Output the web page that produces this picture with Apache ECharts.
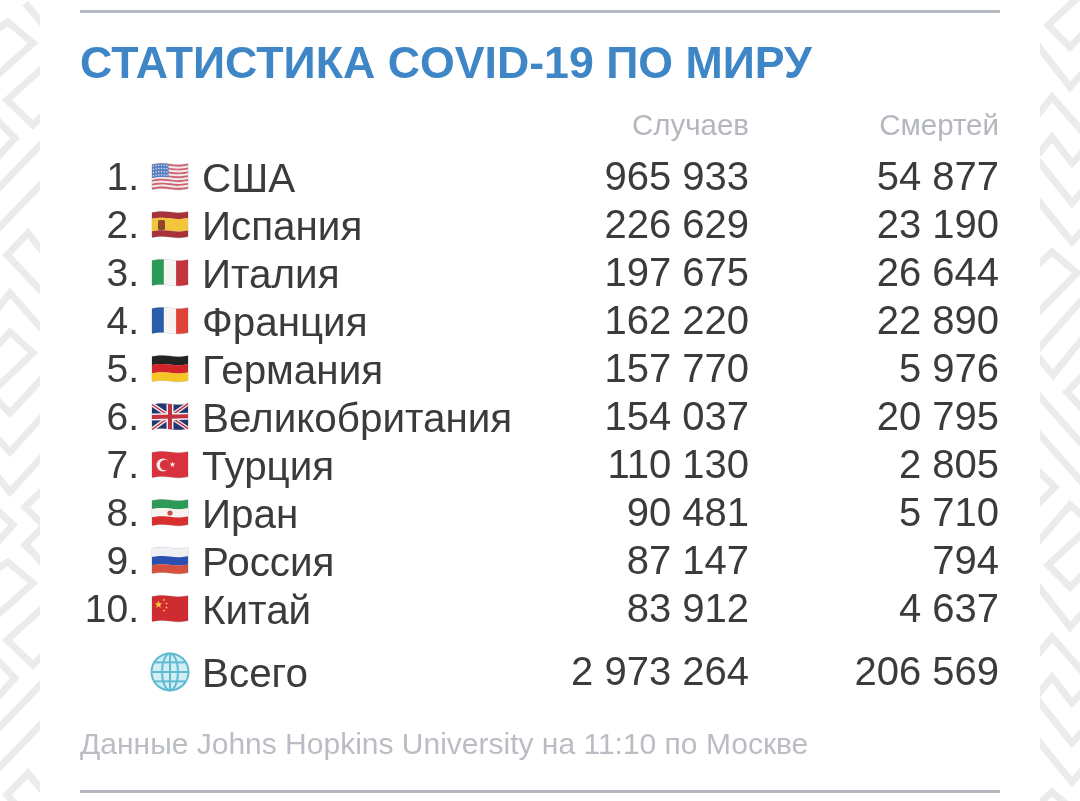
<!DOCTYPE html>
<html><head><meta charset="utf-8">
<style>html,body{margin:0;padding:0;background:#fff}#c{width:1080px;height:801px}</style>
<script src="https://cdn.jsdelivr.net/npm/echarts@6/dist/echarts.min.js"></script>
</head><body><div id="c"></div>
<script>
const ranks = ['1.','2.','3.','4.','5.','6.','7.','8.','9.','10.',''];
const countries = ['США','Испания','Италия','Франция','Германия','Великобритания','Турция','Иран','Россия','Китай','Всего'];
const cases = ['965 933','226 629','197 675','162 220','157 770','154 037','110 130','90 481','87 147','83 912','2 973 264'];
const deaths = ['54 877','23 190','26 644','22 890','5 976','20 795','2 805','5 710','794','4 637','206 569'];
const flags = ['us','es','it','fr','de','gb','tr','ir','ru','cn','globe'];
const rowPositions = [1,2,3,4,5,6,7,8,9,10,11.31];
const titleText = 'СТАТИСТИКА COVID-19 ПО МИРУ';
const colHeaders = ['Случаев','Смертей'];
const footerText = 'Данные Johns Hopkins University на 11:10 по Москве';

const FONT = '"Liberation Sans", Arial, sans-serif';
const INK = '#3b3b3e';
const FW = 36, FH = 25;

function wave(u){ return -0.9*Math.sin(u*Math.PI*2) - 0.8*u; }
function flagPoly(cx,cy,u0,v0,u1,v1,fill,stroke){
  const pts=[]; const n=10;
  const P=(u,v)=>[cx-FW/2+u*FW, cy-FH/2+v*FH+wave(u)];
  for(let i=0;i<=n;i++){const u=u0+(u1-u0)*i/n;pts.push(P(u,v0));}
  for(let i=n;i>=0;i--){const u=u0+(u1-u0)*i/n;pts.push(P(u,v1));}
  return {type:'polygon',shape:{points:pts},style:stroke?{fill,stroke,lineWidth:1}:{fill}};
}
function hBands(cx,cy,bands){let v=0;return bands.map(b=>{const r=flagPoly(cx,cy,0,v,1,v+b[0],b[1]);v+=b[0];return r;});}
function vBands(cx,cy,bands){let u=0;return bands.map(b=>{const r=flagPoly(cx,cy,u,0,u+b[0],1,b[1]);u+=b[0];return r;});}
function dot(x,y,r,fill){return {type:'circle',shape:{cx:x,cy:y,r},style:{fill}};}
function star(x,y,r,fill){const pts=[];for(let i=0;i<10;i++){const a=-Math.PI/2+i*Math.PI/5,q=i%2?r*0.42:r;pts.push([x+q*Math.cos(a),y+q*Math.sin(a)]);}return {type:'polygon',shape:{points:pts},style:{fill}};}
function flagLine(cx,cy,u0,v0,u1,v1,w,col){
  const P=(u,v)=>[cx-FW/2+u*FW, cy-FH/2+v*FH+wave(u)];
  return {type:'line',shape:{x1:P(u0,v0)[0],y1:P(u0,v0)[1],x2:P(u1,v1)[0],y2:P(u1,v1)[1]},style:{stroke:col,lineWidth:w}};
}
function drawFlag(code,cx,cy){
  const o=[];
  if(code!=='globe') o.push(flagPoly(cx,cy,0,0,1,1,'#dddddd','#d2d2d4'));
  switch(code){
    case 'us':{
      const n=13;for(let i=0;i<n;i++)o.push(flagPoly(cx,cy,0,i/n,1,(i+1)/n,i%2?'#f4e9ea':'#cf6470'));
      o.push(flagPoly(cx,cy,0,0,0.46,7/13,'#5b80c2'));
      for(let r=0;r<4;r++)for(let c=0;c<6;c++){const u=0.04+c*0.075,v=0.07+r*0.13;o.push(dot(cx-FW/2+u*FW,cy-FH/2+v*FH+wave(u),0.7,'#dfe8f5'));}
      break;}
    case 'es':
      o.push(...hBands(cx,cy,[[.25,'#a8323a'],[.5,'#f2c53d'],[.25,'#a8323a']]));
      o.push({type:'rect',shape:{x:cx-12,y:cy-5,width:7,height:10,r:1.5},style:{fill:'#8c4a2c'}});
      o.push(dot(cx-8.5,cy-1,2,'#b3372f'));
      break;
    case 'it': o.push(...vBands(cx,cy,[[.33,'#2c9a57'],[.34,'#f6f5f2'],[.33,'#c2353f']]));break;
    case 'fr': o.push(...vBands(cx,cy,[[.33,'#2a5ca8'],[.34,'#f6f5f2'],[.33,'#e0433a']]));break;
    case 'de': o.push(...hBands(cx,cy,[[.34,'#232323'],[.33,'#d3242b'],[.33,'#f5c526']]));break;
    case 'gb':
      o.push(flagPoly(cx,cy,0,0,1,1,'#23376f'));
      o.push(flagLine(cx,cy,0,0,1,1,4,'#f1eef0'),flagLine(cx,cy,0,1,1,0,4,'#f1eef0'));
      o.push(flagLine(cx,cy,0,0,1,1,1.5,'#c5303e'),flagLine(cx,cy,0,1,1,0,1.5,'#c5303e'));
      o.push(flagLine(cx,cy,.5,0,.5,1,7,'#f1eef0'),flagLine(cx,cy,0,.5,1,.5,7,'#f1eef0'));
      o.push(flagLine(cx,cy,.5,0,.5,1,4,'#c5303e'),flagLine(cx,cy,0,.5,1,.5,4,'#c5303e'));
      break;
    case 'tr':
      o.push(flagPoly(cx,cy,0,0,1,1,'#d8323f'));
      o.push(dot(cx-7,cy,6.5,'#f7ecec'),dot(cx-5,cy,5.2,'#d8323f'));
      o.push(star(cx+2.5,cy-0.5,3,'#f7ecec'));
      break;
    case 'ir':
      o.push(...hBands(cx,cy,[[.34,'#2e9a58'],[.33,'#f6f3f2'],[.33,'#d7302e']]));
      o.push(dot(cx,cy,2.6,'#c9504e'));
      break;
    case 'ru': o.push(...hBands(cx,cy,[[.34,'#eef0f4'],[.33,'#2b50b0'],[.33,'#d5503f']]));break;
    case 'cn':
      o.push(flagPoly(cx,cy,0,0,1,1,'#cf2c32'));
      o.push(star(cx-11.5,cy-4.5,4,'#f6c93c'));
      [[-6,-9],[-3.5,-5.5],[-3.5,-1.5],[-6,1.5]].forEach(p=>o.push(star(cx+p[0],cy+p[1],1.4,'#f6c93c')));
      break;
    case 'globe':{
      const R=18.5,L='#62bad2',S={stroke:L,lineWidth:2,fill:'transparent'};
      o.push({type:'circle',shape:{cx,cy,r:R},style:{fill:'#d2eef5',stroke:L,lineWidth:2}});
      o.push({type:'ellipse',shape:{cx,cy,rx:8,ry:R},style:S});
      o.push({type:'line',shape:{x1:cx,y1:cy-R,x2:cx,y2:cy+R},style:S});
      o.push({type:'line',shape:{x1:cx-R,y1:cy,x2:cx+R,y2:cy},style:S});
      o.push({type:'line',shape:{x1:cx-15.5,y1:cy-9.5,x2:cx+15.5,y2:cy-9.5},style:S});
      o.push({type:'line',shape:{x1:cx-15.5,y1:cy+9.5,x2:cx+15.5,y2:cy+9.5},style:S});
      break;}
  }
  return o;
}

// column anchors (axis units = px)
const X_RANK=139, X_FLAG=170, X_NAME=202, X_CASES=749, X_DEATHS=999;
function txt(x,y,text,align,size,fill,weight){
  return {type:'text',style:{x,y,text,textAlign:align,textVerticalAlign:'middle',fill,font:(weight||'normal')+' '+size+'px '+FONT}};
}
function renderRow(params,api){
  const i=api.value(0), row=api.value(1);
  const p=x=>api.coord([x,row]);
  const cy=p(X_FLAG)[1];
  const ch=drawFlag(flags[i],X_FLAG,cy);
  ch.push(txt(p(X_RANK)[0],cy+2,ranks[i],'right',39,INK));
  ch.push(txt(p(X_NAME)[0],cy+4,countries[i],'left',40.4,INK));
  ch.push(txt(p(X_CASES)[0],cy+2,cases[i],'right',40,INK));
  ch.push(txt(p(X_DEATHS)[0],cy+2,deaths[i],'right',40,INK));
  return {type:'group',children:ch};
}

// background ornament
const ornamentBase=[
 [[25,3],[48,30]],
 [[-8,32],[8,22],[33,43],[-8,80]],
 [[48,63],[7,100],[33,125],[48,110]],
 [[-4,119],[15,138],[-4,159]],
 [[48,137],[-8,195]],[[48,177],[-8,235]],
 [[48,258],[28,233],[7,255],[48,298]],
 [[-8,316],[10,293],[48,336]],
 [[-8,352],[10,332],[33,353],[-8,392]],
 [[48,372],[10,413],[-8,395]],[[48,410],[10,452],[-8,432]],[[48,450],[10,492],[-8,470]],
 [[-8,505],[13,525],[-8,548]],
 [[48,485],[25,507],[48,530]],[[48,522],[25,545],[32,552]],
 [[1088,-12],[1048,25],[1070,47],[1088,29]],
 [[1032,38],[1070,87],[1088,67]],
 [[1032,122],[1052,97],[1088,138]],
 [[1032,162],[1052,137],[1072,163],[1088,147]],
 [[1032,153],[1072,203],[1088,185]],
 [[1032,193],[1072,242],[1088,224]],
 [[1032,270],[1052,252],[1077,273],[1032,319]],
 [[1088,293],[1032,356]],
 [[1088,332],[1053,375],[1032,350]],
 [[1088,370],[1067,392],[1088,415]],
 [[1032,388],[1088,451]],[[1032,426],[1088,489]],
 [[1032,465],[1055,487],[1032,510]],
 [[1032,549],[1070,505],[1088,521]],
];
function ornaments(){
  const out=[];
  [0,540].forEach(dy=>ornamentBase.forEach(l=>out.push({
    type:'polyline',silent:true,z:0,
    shape:{points:l.map(p=>[p[0],p[1]+dy])},
    style:{stroke:'#ebebec',lineWidth:7,fill:null,lineJoin:'miter'}})));
  out.push({type:'rect',z:1,silent:true,shape:{x:40,y:0,width:1000,height:801},style:{fill:'#fff'}});
  return out;
}

const chart=echarts.init(document.getElementById('c'),null,{renderer:'canvas'});
chart.setOption({
  animation:false,
  backgroundColor:'#ffffff',
  title:[
    {text:titleText,left:80,top:43,padding:0,z:5,textStyle:{fontFamily:FONT,fontSize:44.7,fontWeight:'bold',color:'#3f86c7'}},
    {text:footerText,left:80,top:731,padding:0,z:5,textStyle:{fontFamily:FONT,fontSize:30,fontWeight:'normal',color:'#babdc3'}}
  ],
  grid:{left:0,right:0,top:0,bottom:0},
  xAxis:{type:'value',min:0,max:1080,show:false},
  yAxis:{type:'value',inverse:true,min:-2.6875,max:14,show:false},
  graphic:{elements:[
    ...ornaments(),
    {type:'rect',z:5,silent:true,shape:{x:80,y:10,width:920,height:3},style:{fill:'#b4b8bf'}},
    {type:'rect',z:5,silent:true,shape:{x:80,y:790,width:920,height:3},style:{fill:'#b4b8bf'}},
    {type:'text',z:5,style:{x:749,y:127,text:colHeaders[0],textAlign:'right',textVerticalAlign:'middle',fill:'#b4b7bd',font:'29.5px '+FONT}},
    {type:'text',z:5,style:{x:999,y:127,text:colHeaders[1],textAlign:'right',textVerticalAlign:'middle',fill:'#b4b7bd',font:'29.5px '+FONT}}
  ]},
  series:[{
    type:'custom',z:5,coordinateSystem:'cartesian2d',
    clip:false,
    encode:{x:0,y:1},
    renderItem:renderRow,
    data:rowPositions.map((r,i)=>[i,r])
  }]
});
</script></body></html>
